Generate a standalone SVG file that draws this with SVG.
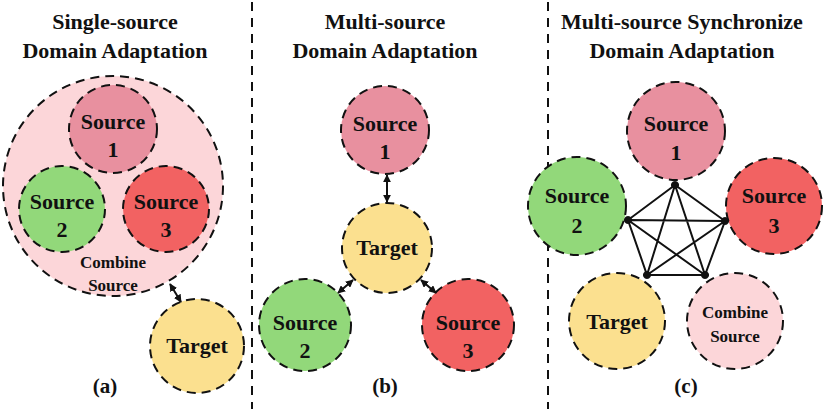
<svg xmlns="http://www.w3.org/2000/svg" width="825" height="409" viewBox="0 0 825 409">
<style>
text{font-family:"Liberation Serif","Times New Roman",serif;font-weight:bold;text-anchor:middle;fill:#111}
.t{font-size:22px}.n{font-size:22px}.s{font-size:17px}.l{font-size:21px}
circle{stroke:#111;stroke-width:2;stroke-dasharray:9 6}
.s1{fill:#e8909f}.s2{fill:#92d87a}.s3{fill:#f26262}.tg{fill:#fbe08f}.cb{fill:#fcd6d9}
.sep{stroke:#111;stroke-width:2;stroke-dasharray:9 7}
.c{stroke:#111;stroke-width:2;fill:none}
.dot{fill:#111;stroke:none}
</style>
<defs>
<marker id="ah" viewBox="0 0 10 10" refX="9" refY="5" markerWidth="4" markerHeight="4" orient="auto-start-reverse"><path d="M0,0L10,5L0,10z" fill="#111"/></marker>
</defs>
<rect width="825" height="409" fill="#fff"/>
<line class="sep" x1="252" y1="2" x2="252" y2="409"/>
<line class="sep" x1="548" y1="2" x2="548" y2="409"/>
<text class="t" x="115" y="29">Single-source</text>
<text class="t" x="115" y="58">Domain Adaptation</text>
<text class="t" x="385" y="29">Multi-source</text>
<text class="t" x="385" y="58">Domain Adaptation</text>
<text class="t" x="682" y="29">Multi-source Synchronize</text>
<text class="t" x="682" y="58">Domain Adaptation</text>
<g id="a-combine"><circle class="cb" cx="113" cy="186" r="110"/><text class="s" x="113" y="268">Combine</text><text class="s" x="113" y="291">Source</text></g>
<g id="a-source1"><circle class="s1" cx="113" cy="129" r="44"/><text class="n" x="113" y="129">Source</text><text class="n" x="113" y="157">1</text></g>
<g id="a-source2"><circle class="s2" cx="62" cy="209" r="43"/><text class="n" x="62" y="209">Source</text><text class="n" x="62" y="237">2</text></g>
<g id="a-source3"><circle class="s3" cx="166" cy="209" r="43"/><text class="n" x="166" y="209">Source</text><text class="n" x="166" y="237">3</text></g>
<g id="a-target"><circle class="tg" cx="197" cy="346" r="47"/><text class="n" x="197" y="353">Target</text></g>
<g id="b-source1"><circle class="s1" cx="385" cy="130" r="44"/><text class="n" x="385" y="131">Source</text><text class="n" x="385" y="159">1</text></g>
<g id="b-target"><circle class="tg" cx="387" cy="248" r="45"/><text class="n" x="387" y="255">Target</text></g>
<g id="b-source2"><circle class="s2" cx="305" cy="325" r="46"/><text class="n" x="305" y="330">Source</text><text class="n" x="305" y="358">2</text></g>
<g id="b-source3"><circle class="s3" cx="468" cy="325" r="46"/><text class="n" x="468" y="330">Source</text><text class="n" x="468" y="358">3</text></g>
<g id="c-source1"><circle class="s1" cx="676" cy="131" r="49"/><text class="n" x="676" y="131">Source</text><text class="n" x="676" y="160">1</text></g>
<g id="c-source2"><circle class="s2" cx="577" cy="206" r="49"/><text class="n" x="577" y="203">Source</text><text class="n" x="577" y="233">2</text></g>
<g id="c-source3"><circle class="s3" cx="774" cy="206" r="48"/><text class="n" x="774" y="203">Source</text><text class="n" x="774" y="233">3</text></g>
<g id="c-target"><circle class="tg" cx="617" cy="321" r="48"/><text class="n" x="617" y="329">Target</text></g>
<g id="c-combine"><circle class="cb" cx="735" cy="321" r="48"/><text class="s" x="735" y="318">Combine</text><text class="s" x="735" y="342">Source</text></g>
<text class="l" x="105" y="393">(a)</text>
<text class="l" x="385" y="393">(b)</text>
<text class="l" x="686" y="393">(c)</text>
<g id="connectors">
<line class="c" x1="170" y1="284" x2="181" y2="302" marker-start="url(#ah)" marker-end="url(#ah)"/>
<line class="c" x1="387" y1="175" x2="387" y2="202" marker-start="url(#ah)" marker-end="url(#ah)"/>
<line class="c" x1="353" y1="280" x2="338" y2="293" marker-start="url(#ah)" marker-end="url(#ah)"/>
<line class="c" x1="421" y1="280" x2="436" y2="293" marker-start="url(#ah)" marker-end="url(#ah)"/>
<g class="c" stroke-width="2.5">
<path d="M675,185L628,220L647,275L705,275L725,221Z"/>
<path d="M675,185L647,275M675,185L705,275M628,220L725,221M628,220L705,275M725,221L647,275"/>
</g>
<path class="dot" d="M675,181a4,4 0 1,0 0.01,0M628,216a4,4 0 1,0 0.01,0M725,217a4,4 0 1,0 0.01,0M647,271a4,4 0 1,0 0.01,0M705,271a4,4 0 1,0 0.01,0"/>
</g>
</svg>
